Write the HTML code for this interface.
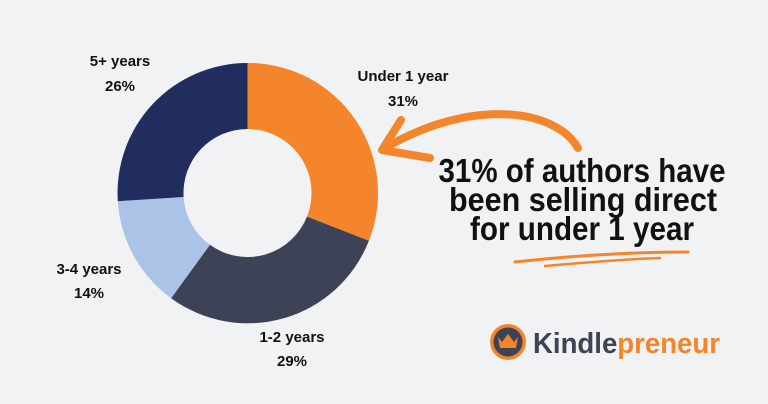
<!DOCTYPE html>
<html><head><meta charset="utf-8"><style>
html,body{margin:0;padding:0;background:#F1F2F4;}
svg{display:block;}
text{font-family:"Liberation Sans",sans-serif;font-weight:bold;fill:#111;}
</style></head><body>
<svg width="768" height="404" viewBox="0 0 768 404">
<rect width="768" height="404" fill="#F1F2F4"/>
<path d="M247.5,63 A130,130 0 0 1 368.9,240.8 L307,216.6 A64,64 0 0 0 247.5,129 Z" fill="#F4852A"/>
<path d="M368.9,240.8 A130,130 0 0 1 171.1,298.2 L209.9,244.8 A64,64 0 0 0 307,216.6 Z" fill="#3E4256"/>
<path d="M171.1,298.2 A130,130 0 0 1 117.8,201.2 L183.6,197 A64,64 0 0 0 209.9,244.8 Z" fill="#AAC3E7"/>
<path d="M117.8,201.2 A130,130 0 0 1 247.5,63 L247.5,129 A64,64 0 0 0 183.6,197 Z" fill="#212C5F"/>
<g font-size="15" text-anchor="middle">
<text x="120" y="66">5+ years</text><text x="120" y="91">26%</text>
<text x="403" y="81">Under 1 year</text><text x="403" y="106">31%</text>
<text x="89" y="274">3-4 years</text><text x="89" y="298">14%</text>
<text x="292" y="342">1-2 years</text><text x="292" y="366">29%</text>
</g>
<g fill="none" stroke="#F4852A" stroke-linecap="round" stroke-linejoin="round">
<path d="M578,148 C555,108 470,98 385,148" stroke-width="8"/>
<path d="M401,120 L382,150 L430,158" stroke-width="8"/>
<path d="M515,262 C570,256 630,252 688,252" stroke-width="3"/>
<path d="M545,266 C590,262 630,259 660,258" stroke-width="2.5"/>
</g>
<g font-size="33" text-anchor="middle">
<text x="582" y="182" textLength="287" lengthAdjust="spacingAndGlyphs">31% of authors have</text>
<text x="583" y="211" textLength="268" lengthAdjust="spacingAndGlyphs">been selling direct</text>
<text x="582" y="240" textLength="224" lengthAdjust="spacingAndGlyphs">for under 1 year</text>
</g>
<circle cx="508" cy="342" r="18" fill="#F4852A"/>
<circle cx="508" cy="342" r="14.5" fill="#3E4256"/>
<path d="M498,337 L502,342 L508,334 L514,342 L518,337 L516,348 L500,348 Z" fill="#F4852A"/>
<text x="533" y="353" font-size="29" textLength="187" lengthAdjust="spacingAndGlyphs"><tspan fill="#3E4256">Kindle</tspan><tspan fill="#F4852A">preneur</tspan></text>
</svg>
</body></html>
